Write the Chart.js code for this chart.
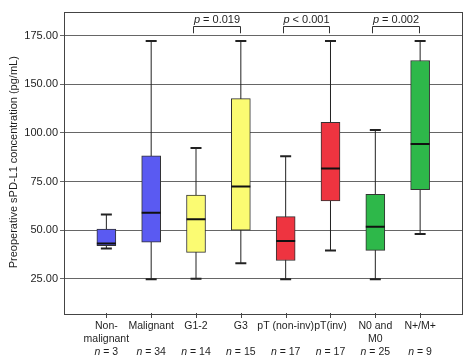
<!DOCTYPE html>
<html>
<head>
<meta charset="utf-8">
<script src="https://cdn.jsdelivr.net/npm/chart.js@4/dist/chart.umd.min.js"></script>
<style>
html,body{margin:0;padding:0;background:#fff;}
#wrap{width:474px;height:358px;}
</style>
</head>
<body>
<div id="wrap"><canvas id="c" width="474" height="358"></canvas></div>
<script>
// Categories (tick label lines) and group sizes
const categories = [['Non-','malignant'],['Malignant'],['G1-2'],['G3'],['pT (non-inv)'],['pT(inv)'],['N0 and','M0'],['N+/M+']];
const groupN = [3, 34, 14, 15, 17, 17, 25, 9];
// Box plot values, in axis position units (axis gridlines are evenly spaced but labelled non-linearly)
const whiskerMin = [40.6, 24.8, 25.0, 33.0, 24.8, 39.6, 24.8, 48.1];
const boxQ1      = [42.1, 43.9, 38.6, 50.0, 34.4, 65.0, 39.6, 70.8];
const boxMedian  = [43.2, 59.0, 55.6, 72.5, 44.4, 81.7, 51.8, 94.4];
const boxQ3      = [50.6, 88.3, 68.0, 117.7, 57.0, 105.5, 68.5, 137.3];
const whiskerMax = [58.1, 147.3, 92.3, 147.3, 88.1, 147.3, 101.5, 147.3];
const boxColors  = ['#5a5af2','#5a5af2','#fbfb72','#fbfb72','#ee3440','#ee3440','#2eb84a','#2eb84a'];
// Y axis gridline positions and the labels printed at them
const yTickPositions = [25, 50, 75, 100, 125, 150];
const yTickLabels = ['25.00','50.00','75.00','100.00','150.00','175.00'];
// Significance brackets: [from category, to category, text after p]
const brackets = [[2, 3, ' = 0.019'], [4, 5, ' < 0.001'], [6, 7, ' = 0.002']];

const FONT = '"Liberation Sans", Arial, sans-serif';
const TXT = '#1e1e1e';

const barData = categories.map((c,i)=>({x:i, y:[boxQ1[i], boxQ3[i]]}));
const whiskerData = [];
categories.forEach((c,i)=>{ whiskerData.push({x:i,y:whiskerMin[i]},{x:i,y:whiskerMax[i]},{x:i,y:null}); });
const capData = [];
categories.forEach((c,i)=>{ capData.push({x:i,y:whiskerMin[i]},{x:i,y:whiskerMax[i]}); });
const medianData = categories.map((c,i)=>({x:i,y:boxMedian[i]}));

const extras = {
  id:'extras',
  afterDraw(chart){
    const ctx = chart.ctx, a = chart.chartArea, xs = chart.scales.x, ys = chart.scales.y;
    ctx.save();
    // frame
    ctx.strokeStyle = '#444'; ctx.lineWidth = 1;
    ctx.strokeRect(Math.round(a.left)+0.5, Math.round(a.top)+0.5, Math.round(a.right-a.left)-1, Math.round(a.bottom-a.top));
    // x tick marks
    categories.forEach((c,i)=>{
      const x = Math.round(xs.getPixelForValue(i)) + 0.5;
      ctx.beginPath(); ctx.moveTo(x, Math.round(a.bottom)); ctx.lineTo(x, Math.round(a.bottom)+5); ctx.stroke();
    });
    // brackets
    brackets.forEach(b=>{
      const x1 = Math.round(xs.getPixelForValue(b[0])) - 2.5, x2 = Math.round(xs.getPixelForValue(b[1])) - 0.5;
      const yt = Math.round(ys.getPixelForValue(155)) + 0.5, yb = ys.getPixelForValue(151.3);
      ctx.strokeStyle = '#333'; ctx.lineWidth = 1;
      ctx.beginPath(); ctx.moveTo(x1, yb); ctx.lineTo(x1, yt); ctx.lineTo(x2, yt); ctx.lineTo(x2, yb); ctx.stroke();
      const ty = ys.getPixelForValue(158.2);
      ctx.font = 'italic 11px ' + FONT; const w1 = ctx.measureText('p').width;
      ctx.font = '11px ' + FONT; const w2 = ctx.measureText(b[2]).width;
      let sx = (x1 + x2)/2 - (w1 + w2)/2;
      ctx.fillStyle = TXT; ctx.textBaseline = 'middle'; ctx.textAlign = 'left';
      ctx.font = 'italic 11px ' + FONT; ctx.fillText('p', sx, ty);
      ctx.font = '11px ' + FONT; ctx.fillText(b[2], sx + w1, ty);
    });
    // n = rows
    groupN.forEach((n,i)=>{
      const x = xs.getPixelForValue(i), y = 352;
      const t2 = ' = ' + n;
      ctx.font = 'italic 10.5px ' + FONT; const w1 = ctx.measureText('n').width;
      ctx.font = '10.5px ' + FONT; const w2 = ctx.measureText(t2).width;
      let sx = x - (w1 + w2)/2;
      ctx.fillStyle = TXT; ctx.textBaseline = 'middle'; ctx.textAlign = 'left';
      ctx.font = 'italic 10.5px ' + FONT; ctx.fillText('n', sx, y);
      ctx.font = '10.5px ' + FONT; ctx.fillText(t2, sx + w1, y);
    });
    ctx.restore();
  }
};

new Chart(document.getElementById('c'), {
  type:'bar',
  data:{
    datasets:[
      {type:'bar', data:barData, backgroundColor:boxColors, borderColor:'#333', borderWidth:1, barThickness:19, order:2, borderSkipped:false},
      {type:'line', data:whiskerData, borderColor:'#222', borderWidth:1, pointRadius:0, spanGaps:false, order:3},
      {type:'scatter', data:capData, pointStyle:'line', pointRadius:5.5, borderColor:'#222', pointBorderWidth:2, borderWidth:2, order:1},
      {type:'scatter', data:medianData, pointStyle:'line', pointRadius:9.5, borderColor:'#111', pointBorderWidth:2, borderWidth:2, order:0}
    ]
  },
  options:{
    responsive:false, animation:false,
    layout:{padding:{top:4,right:9,left:0,bottom:0}},
    plugins:{legend:{display:false}, tooltip:{enabled:false}},
    scales:{
      x:{type:'linear', min:-0.945, max:7.945, offset:false,
        afterBuildTicks(s){ s.ticks = categories.map((c,i)=>({value:i})); },
        afterFit(s){ s.height = 45; },
        grid:{offset:false, drawOnChartArea:false, drawTicks:true, tickLength:5, color:'rgba(0,0,0,0)'},
        border:{display:false},
        ticks:{autoSkip:false, maxRotation:0, padding:2, color:TXT, font:{family:FONT,size:10.5},
          callback:(v,i)=>categories[i]}
      },
      y:{type:'linear', min:7.4, max:162.5,
        afterBuildTicks(s){ s.ticks = yTickPositions.map(v=>({value:v})); },
        afterFit(s){ s.width = 64; },
        grid:{color:'#666', tickLength:4, lineWidth:1},
        border:{display:false},
        title:{display:true, text:'Preoperative sPD-L1 concentration (pg/mL)', color:TXT, font:{family:FONT,size:11}, padding:{top:7,bottom:0}},
        ticks:{padding:2, color:TXT, font:{family:FONT,size:11}, callback:(v,i)=>yTickLabels[i]}
      }
    }
  },
  plugins:[extras]
});
</script>
</body>
</html>
